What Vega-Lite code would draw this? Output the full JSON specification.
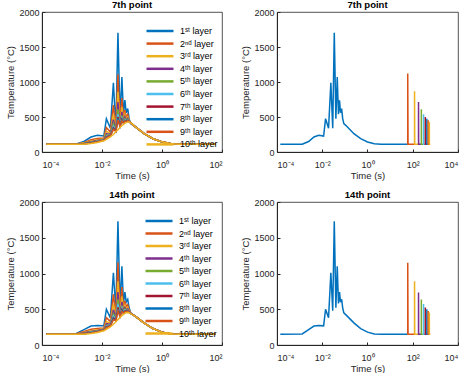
{
  "$schema": "https://vega.github.io/schema/vega-lite/v6.json",
  "padding": {"left": 5, "top": -1, "right": 0, "bottom": 0},
  "datasets": {
    "p7": [
      {"t":0.00014,"L1":110,"L2":110,"L3":110,"L4":110,"L5":110,"L6":110,"L7":110,"L8":110,"L9":110,"L10":110},
      {"t":0.0013,"L1":110,"L2":110,"L3":110,"L4":110,"L5":110,"L6":110,"L7":110,"L8":110,"L9":110,"L10":110},
      {"t":0.0025,"L1":150,"L2":134,"L3":127,"L4":123,"L5":120,"L6":118,"L7":117,"L8":116,"L9":116,"L10":112},
      {"t":0.0043,"L1":214,"L2":174,"L3":157,"L4":147,"L5":140,"L6":135,"L7":132,"L8":131,"L9":129,"L10":120},
      {"t":0.007,"L1":238,"L2":194,"L3":175,"L4":164,"L5":157,"L6":152,"L7":148,"L8":147,"L9":145,"L10":135},
      {"t":0.0115,"L1":228,"L2":199,"L3":186,"L4":179,"L5":174,"L6":171,"L7":169,"L8":168,"L9":167,"L10":160},
      {"t":0.014,"L1":476,"L2":349,"L3":295,"L4":264,"L5":242,"L6":227,"L7":219,"L8":214,"L9":210,"L10":180},
      {"t":0.019,"L1":340,"L2":286,"L3":264,"L4":251,"L5":241,"L6":235,"L7":231,"L8":229,"L9":228,"L10":215},
      {"t":0.024,"L1":990,"L2":672,"L3":539,"L4":461,"L5":405,"L6":368,"L7":346,"L8":335,"L9":324,"L10":250},
      {"t":0.029,"L1":340,"L2":319,"L3":310,"L4":304,"L5":301,"L6":298,"L7":297,"L8":296,"L9":295,"L10":290},
      {"t":0.034,"L1":1704,"L2":1109,"L3":860,"L4":714,"L5":611,"L6":541,"L7":500,"L8":479,"L9":458,"L10":320},
      {"t":0.04,"L1":476,"L2":422,"L3":399,"L4":386,"L5":377,"L6":370,"L7":366,"L8":365,"L9":363,"L10":350},
      {"t":0.046,"L1":1071,"L2":772,"L3":646,"L4":573,"L5":521,"L6":486,"L7":466,"L8":455,"L9":445,"L10":375},
      {"t":0.052,"L1":540,"L2":478,"L3":452,"L4":436,"L5":425,"L6":418,"L7":414,"L8":412,"L9":410,"L10":395},
      {"t":0.058,"L1":740,"L2":598,"L3":539,"L4":504,"L5":479,"L6":463,"L7":453,"L8":448,"L9":443,"L10":410},
      {"t":0.064,"L1":560,"L2":500,"L3":475,"L4":460,"L5":449,"L6":442,"L7":438,"L8":436,"L9":434,"L10":420},
      {"t":0.072,"L1":620,"L2":537,"L3":503,"L4":483,"L5":468,"L6":459,"L7":453,"L8":450,"L9":447,"L10":428},
      {"t":0.08,"L1":476,"L2":455,"L3":447,"L4":442,"L5":438,"L6":436,"L7":434,"L8":434,"L9":433,"L10":428},
      {"t":0.09,"L1":405,"L2":411,"L3":414,"L4":416,"L5":417,"L6":418,"L7":418,"L8":418,"L9":419,"L10":420},
      {"t":0.13,"L1":357,"L2":358,"L3":359,"L4":360,"L5":360,"L6":360,"L7":360,"L8":360,"L9":360,"L10":360},
      {"t":0.25,"L1":262,"L2":263,"L3":264,"L4":265,"L5":265,"L6":265,"L7":265,"L8":265,"L9":265,"L10":265},
      {"t":0.5,"L1":190,"L2":190,"L3":190,"L4":190,"L5":190,"L6":190,"L7":190,"L8":190,"L9":190,"L10":190},
      {"t":1.0,"L1":143,"L2":144,"L3":144,"L4":145,"L5":145,"L6":145,"L7":145,"L8":145,"L9":145,"L10":145},
      {"t":2.0,"L1":119,"L2":119,"L3":118,"L4":118,"L5":118,"L6":118,"L7":118,"L8":118,"L9":118,"L10":118},
      {"t":4.0,"L1":110,"L2":110,"L3":110,"L4":110,"L5":110,"L6":110,"L7":110,"L8":110,"L9":110,"L10":110},
      {"t":60,"L1":110,"L2":110,"L3":110,"L4":110,"L5":110,"L6":110,"L7":110,"L8":110,"L9":110,"L10":110}
    ],
    "p14": [
      {"t":0.00014,"L1":150,"L2":150,"L3":150,"L4":150,"L5":150,"L6":150,"L7":150,"L8":150,"L9":150,"L10":150},
      {"t":0.0013,"L1":155,"L2":153,"L3":152,"L4":151,"L5":151,"L6":151,"L7":150,"L8":150,"L9":150,"L10":150},
      {"t":0.0025,"L1":215,"L2":189,"L3":177,"L4":170,"L5":165,"L6":162,"L7":160,"L8":159,"L9":158,"L10":152},
      {"t":0.0043,"L1":265,"L2":221,"L3":201,"L4":189,"L5":182,"L6":177,"L7":173,"L8":171,"L9":169,"L10":160},
      {"t":0.007,"L1":272,"L2":231,"L3":213,"L4":202,"L5":195,"L6":191,"L7":187,"L8":185,"L9":184,"L10":175},
      {"t":0.0115,"L1":268,"L2":239,"L3":227,"L4":219,"L5":214,"L6":211,"L7":209,"L8":207,"L9":206,"L10":200},
      {"t":0.014,"L1":500,"L2":382,"L3":329,"L4":298,"L5":277,"L6":265,"L7":255,"L8":249,"L9":245,"L10":220},
      {"t":0.019,"L1":380,"L2":328,"L3":304,"L4":290,"L5":281,"L6":275,"L7":271,"L8":268,"L9":266,"L10":255},
      {"t":0.024,"L1":1010,"L2":708,"L3":571,"L4":492,"L5":438,"L6":405,"L7":380,"L8":366,"L9":355,"L10":290},
      {"t":0.029,"L1":480,"L2":415,"L3":385,"L4":368,"L5":357,"L6":350,"L7":344,"L8":341,"L9":339,"L10":325},
      {"t":0.034,"L1":1730,"L2":1153,"L3":891,"L4":740,"L5":637,"L6":575,"L7":527,"L8":499,"L9":479,"L10":355},
      {"t":0.04,"L1":520,"L2":463,"L3":438,"L4":423,"L5":413,"L6":407,"L7":402,"L8":399,"L9":397,"L10":385},
      {"t":0.046,"L1":1100,"L2":810,"L3":679,"L4":603,"L5":551,"L6":520,"L7":496,"L8":482,"L9":472,"L10":410},
      {"t":0.052,"L1":580,"L2":516,"L3":487,"L4":471,"L5":459,"L6":452,"L7":447,"L8":444,"L9":442,"L10":428},
      {"t":0.058,"L1":740,"L2":615,"L3":558,"L4":525,"L5":503,"L6":490,"L7":479,"L8":473,"L9":469,"L10":442},
      {"t":0.064,"L1":600,"L2":537,"L3":509,"L4":492,"L5":481,"L6":474,"L7":469,"L8":466,"L9":464,"L10":450},
      {"t":0.072,"L1":640,"L2":562,"L3":526,"L4":505,"L5":491,"L6":483,"L7":476,"L8":473,"L9":470,"L10":453},
      {"t":0.08,"L1":520,"L2":491,"L3":477,"L4":470,"L5":464,"L6":461,"L7":459,"L8":457,"L9":456,"L10":450},
      {"t":0.09,"L1":450,"L2":446,"L3":444,"L4":443,"L5":442,"L6":442,"L7":441,"L8":441,"L9":441,"L10":440},
      {"t":0.13,"L1":400,"L2":400,"L3":400,"L4":400,"L5":400,"L6":400,"L7":400,"L8":400,"L9":400,"L10":400},
      {"t":0.25,"L1":310,"L2":310,"L3":310,"L4":310,"L5":310,"L6":310,"L7":310,"L8":310,"L9":310,"L10":310},
      {"t":0.5,"L1":230,"L2":230,"L3":230,"L4":230,"L5":230,"L6":230,"L7":230,"L8":230,"L9":230,"L10":230},
      {"t":1.0,"L1":180,"L2":180,"L3":180,"L4":180,"L5":180,"L6":180,"L7":180,"L8":180,"L9":180,"L10":180},
      {"t":2.0,"L1":155,"L2":155,"L3":155,"L4":155,"L5":155,"L6":155,"L7":155,"L8":155,"L9":155,"L10":155},
      {"t":4.0,"L1":150,"L2":150,"L3":150,"L4":150,"L5":150,"L6":150,"L7":150,"L8":150,"L9":150,"L10":150},
      {"t":60,"L1":150,"L2":150,"L3":150,"L4":150,"L5":150,"L6":150,"L7":150,"L8":150,"L9":150,"L10":150}
    ],
    "s7": [
      {"t":60.0002,"k":"L2","T":110},{"t":60.034,"k":"L2","T":1120},{"t":62,"k":"L2","T":110},{"t":120,"k":"L2","T":110},
      {"t":120.0002,"k":"L3","T":110},{"t":120.034,"k":"L3","T":867},{"t":122,"k":"L3","T":110},{"t":180,"k":"L3","T":110},
      {"t":180.0002,"k":"L4","T":110},{"t":180.034,"k":"L4","T":714},{"t":182,"k":"L4","T":110},{"t":240,"k":"L4","T":110},
      {"t":240.0002,"k":"L5","T":110},{"t":240.034,"k":"L5","T":610},{"t":242,"k":"L5","T":110},{"t":300,"k":"L5","T":110},
      {"t":300.0002,"k":"L6","T":110},{"t":300.034,"k":"L6","T":538},{"t":302,"k":"L6","T":110},{"t":360,"k":"L6","T":110},
      {"t":360.0002,"k":"L7","T":110},{"t":360.034,"k":"L7","T":500},{"t":362,"k":"L7","T":110},{"t":420,"k":"L7","T":110},
      {"t":420.0002,"k":"L8","T":110},{"t":420.034,"k":"L8","T":476},{"t":422,"k":"L8","T":110},{"t":480,"k":"L8","T":110},
      {"t":480.0002,"k":"L9","T":110},{"t":480.034,"k":"L9","T":452},{"t":482,"k":"L9","T":110},{"t":540,"k":"L9","T":110},
      {"t":540.0002,"k":"L10","T":110},{"t":540.034,"k":"L10","T":428},{"t":542,"k":"L10","T":110},{"t":600,"k":"L10","T":110}
    ],
    "s14": [
      {"t":60.0002,"k":"L2","T":150},{"t":60.034,"k":"L2","T":1150},{"t":62,"k":"L2","T":150},{"t":120,"k":"L2","T":150},
      {"t":120.0002,"k":"L3","T":150},{"t":120.034,"k":"L3","T":890},{"t":122,"k":"L3","T":150},{"t":180,"k":"L3","T":150},
      {"t":180.0002,"k":"L4","T":150},{"t":180.034,"k":"L4","T":735},{"t":182,"k":"L4","T":150},{"t":240,"k":"L4","T":150},
      {"t":240.0002,"k":"L5","T":150},{"t":240.034,"k":"L5","T":635},{"t":242,"k":"L5","T":150},{"t":300,"k":"L5","T":150},
      {"t":300.0002,"k":"L6","T":150},{"t":300.034,"k":"L6","T":575},{"t":302,"k":"L6","T":150},{"t":360,"k":"L6","T":150},
      {"t":360.0002,"k":"L7","T":150},{"t":360.034,"k":"L7","T":523},{"t":362,"k":"L7","T":150},{"t":420,"k":"L7","T":150},
      {"t":420.0002,"k":"L8","T":150},{"t":420.034,"k":"L8","T":500},{"t":422,"k":"L8","T":150},{"t":480,"k":"L8","T":150},
      {"t":480.0002,"k":"L9","T":150},{"t":480.034,"k":"L9","T":476},{"t":482,"k":"L9","T":150},{"t":540,"k":"L9","T":150},
      {"t":540.0002,"k":"L10","T":150},{"t":540.034,"k":"L10","T":453},{"t":542,"k":"L10","T":150},{"t":600,"k":"L10","T":150}
    ]
  },
  "vconcat": [
    {
      "hconcat": [
        {
          "width": 180, "height": 140, "title": "7th point",
          "data": {"name": "p7"},
          "transform": [{"fold": ["L1","L2","L3","L4","L5","L6","L7","L8","L9","L10"], "as": ["k","T"]}],
          "mark": {"type": "line", "strokeWidth": 1.5},
          "encoding": {
            "x": {"field": "t", "type": "quantitative", "scale": {"type": "log", "domain": [0.0001, 100]}, "axis": {"title": "Time (s)", "values": [0.0001, 0.01, 1, 100], "labelExpr": "datum.value < 0.001 ? '10⁻⁴' : datum.value < 0.1 ? '10⁻²' : datum.value < 10 ? '10⁰' : datum.value < 1000 ? '10²' : '10⁴'"}},
            "y": {"field": "T", "type": "quantitative", "scale": {"domain": [0, 2000]}, "axis": {"title": "Temperature (°C)", "values": [0, 500, 1000, 1500, 2000], "format": "d"}},
            "color": {"field": "k", "type": "nominal",
              "scale": {"domain": ["L1","L2","L3","L4","L5","L6","L7","L8","L9","L10"], "range": ["#0072BD","#D95319","#EDB120","#7E2F8E","#77AC30","#4DBEEE","#A2142F","#0072BD","#D95319","#EDB120"]},
              "legend": {"title": null, "orient": "none", "legendX": 112, "legendY": 13, "symbolType": "M-3,0L3,0", "symbolSize": 81, "symbolStrokeWidth": 2.5, "labelFontSize": 9, "rowPadding": 1.6, "labelOffset": 14, "padding": 0,
                "labelExpr": "datum.label == 'L1' ? '1ˢᵗ layer' : datum.label == 'L2' ? '2ⁿᵈ layer' : datum.label == 'L3' ? '3ʳᵈ layer' : replace(datum.label, 'L', '') + 'ᵗʰ layer'"}}
          }
        },
        {
          "width": 181, "height": 140, "title": "7th point",
          "encoding": {
            "x": {"field": "t", "type": "quantitative", "scale": {"type": "log", "domain": [0.0001, 10000]}, "axis": {"title": "Time (s)", "values": [0.0001, 0.01, 1, 100, 10000], "labelExpr": "datum.value < 0.001 ? '10⁻⁴' : datum.value < 0.1 ? '10⁻²' : datum.value < 10 ? '10⁰' : datum.value < 1000 ? '10²' : '10⁴'"}},
            "y": {"type": "quantitative", "scale": {"domain": [0, 2000]}, "axis": {"title": "Temperature (°C)", "values": [0, 500, 1000, 1500, 2000], "format": "d"}}
          },
          "layer": [
            {
              "data": {"name": "p7"},
              "mark": {"type": "line", "strokeWidth": 1.5, "color": "#0072BD"},
              "encoding": {"y": {"field": "L1", "type": "quantitative"}}
            },
            {
              "data": {"name": "s7"},
              "mark": {"type": "line", "strokeWidth": 1.5},
              "encoding": {
                "y": {"field": "T", "type": "quantitative"},
                "color": {"field": "k", "type": "nominal", "legend": null,
                  "scale": {"domain": ["L1","L2","L3","L4","L5","L6","L7","L8","L9","L10"], "range": ["#0072BD","#D95319","#EDB120","#7E2F8E","#77AC30","#4DBEEE","#A2142F","#0072BD","#D95319","#EDB120"]}}
              }
            }
          ]
        }
      ],
      "spacing": 17,
      "resolve": {"scale": {"color": "independent"}, "legend": {"color": "independent"}}
    },
    {
      "hconcat": [
        {
          "width": 180, "height": 143, "title": "14th point",
          "data": {"name": "p14"},
          "transform": [{"fold": ["L1","L2","L3","L4","L5","L6","L7","L8","L9","L10"], "as": ["k","T"]}],
          "mark": {"type": "line", "strokeWidth": 1.5},
          "encoding": {
            "x": {"field": "t", "type": "quantitative", "scale": {"type": "log", "domain": [0.0001, 100]}, "axis": {"title": "Time (s)", "values": [0.0001, 0.01, 1, 100], "labelExpr": "datum.value < 0.001 ? '10⁻⁴' : datum.value < 0.1 ? '10⁻²' : datum.value < 10 ? '10⁰' : datum.value < 1000 ? '10²' : '10⁴'"}},
            "y": {"field": "T", "type": "quantitative", "scale": {"domain": [0, 2000]}, "axis": {"title": "Temperature (°C)", "values": [0, 500, 1000, 1500, 2000], "format": "d"}},
            "color": {"field": "k", "type": "nominal",
              "scale": {"domain": ["L1","L2","L3","L4","L5","L6","L7","L8","L9","L10"], "range": ["#0072BD","#D95319","#EDB120","#7E2F8E","#77AC30","#4DBEEE","#A2142F","#0072BD","#D95319","#EDB120"]},
              "legend": {"title": null, "orient": "none", "legendX": 111, "legendY": 13, "symbolType": "M-3,0L3,0", "symbolSize": 81, "symbolStrokeWidth": 2.5, "labelFontSize": 9, "rowPadding": 1.5, "labelOffset": 14, "padding": 0,
                "labelExpr": "datum.label == 'L1' ? '1ˢᵗ layer' : datum.label == 'L2' ? '2ⁿᵈ layer' : datum.label == 'L3' ? '3ʳᵈ layer' : replace(datum.label, 'L', '') + 'ᵗʰ layer'"}}
          }
        },
        {
          "width": 181, "height": 143, "title": "14th point",
          "encoding": {
            "x": {"field": "t", "type": "quantitative", "scale": {"type": "log", "domain": [0.0001, 10000]}, "axis": {"title": "Time (s)", "values": [0.0001, 0.01, 1, 100, 10000], "labelExpr": "datum.value < 0.001 ? '10⁻⁴' : datum.value < 0.1 ? '10⁻²' : datum.value < 10 ? '10⁰' : datum.value < 1000 ? '10²' : '10⁴'"}},
            "y": {"type": "quantitative", "scale": {"domain": [0, 2000]}, "axis": {"title": "Temperature (°C)", "values": [0, 500, 1000, 1500, 2000], "format": "d"}}
          },
          "layer": [
            {
              "data": {"name": "p14"},
              "mark": {"type": "line", "strokeWidth": 1.5, "color": "#0072BD"},
              "encoding": {"y": {"field": "L1", "type": "quantitative"}}
            },
            {
              "data": {"name": "s14"},
              "mark": {"type": "line", "strokeWidth": 1.5},
              "encoding": {
                "y": {"field": "T", "type": "quantitative"},
                "color": {"field": "k", "type": "nominal", "legend": null,
                  "scale": {"domain": ["L1","L2","L3","L4","L5","L6","L7","L8","L9","L10"], "range": ["#0072BD","#D95319","#EDB120","#7E2F8E","#77AC30","#4DBEEE","#A2142F","#0072BD","#D95319","#EDB120"]}}
              }
            }
          ]
        }
      ],
      "spacing": 17,
      "resolve": {"scale": {"color": "independent"}, "legend": {"color": "independent"}}
    }
  ],
  "spacing": 9,
  "resolve": {"scale": {"color": "independent"}, "legend": {"color": "independent"}},
  "config": {
    "font": "Liberation Sans",
    "view": {"stroke": "#262626", "strokeWidth": 0.8},
    "title": {"fontSize": 9.5, "fontWeight": "bold", "offset": -1, "color": "#000000"},
    "axis": {"grid": false, "labelFontSize": 9, "titleFontSize": 9.5, "titleFontWeight": "normal", "labelColor": "#262626", "titleColor": "#262626", "domainColor": "#262626", "tickColor": "#262626", "tickSize": -3, "labelOverlap": false},
    "axisY": {"labelPadding": 6, "titlePadding": 3},
    "axisX": {"labelPadding": 11, "titlePadding": 1},
    "legend": {"labelColor": "#000000"}
  }
}
